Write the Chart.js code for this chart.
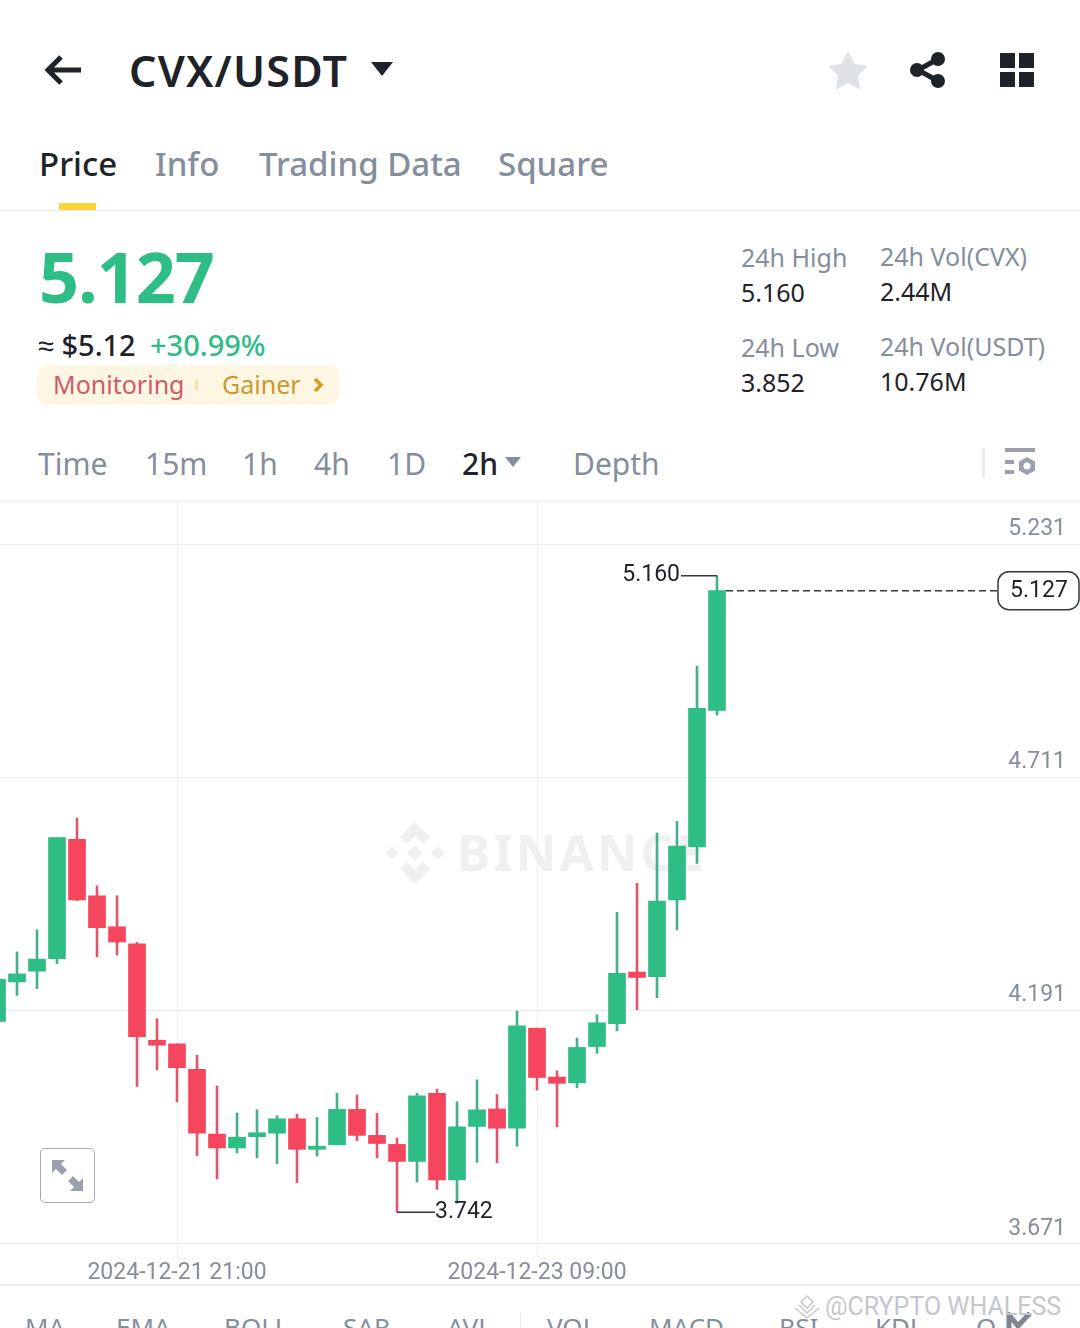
<!DOCTYPE html>
<html>
<head>
<meta charset="utf-8">
<title>CVX/USDT</title>
<script src="https://cdn.jsdelivr.net/npm/chart.js@4"></script>
<style>
html, body { margin: 0; padding: 0; background: #fff; }
#page { position: relative; width: 1080px; height: 1328px; overflow: hidden; font-family: "Noto Sans", sans-serif; color: #1e2329; }
.t { position: absolute; white-space: nowrap; line-height: 1; }
.gray { color: #848e9c; }
.line { position: absolute; background: #eaecef; }
svg { position: absolute; }
#chartBox { position: absolute; left: 0; top: 503px; width: 1080px; height: 782px; }
</style>
</head>
<body>
<div id="page">
  <!-- top bar -->
  <svg style="left:44px;top:54px" width="38" height="32" viewBox="0 0 38 32"><path d="M37 16H4M17 3L4 16l13 13" fill="none" stroke="#1e2329" stroke-width="5"/></svg>
  <span class="t" style="left:129px;top:49px;font-size:43px;font-weight:600;letter-spacing:1.2px">CVX/USDT</span>
  <svg style="left:370px;top:61px" width="24" height="16" viewBox="0 0 24 16"><path d="M1 1h22l-11 14z" fill="#1e2329"/></svg>
  <svg style="left:828px;top:51px" width="40" height="40" viewBox="0 0 40 40"><path d="M20 2l5.6 11.6 12.4 1.8-9 8.8 2.2 12.8L20 30.8 8.8 37l2.2-12.8-9-8.8 12.4-1.8z" fill="#dfe2e6" stroke="#dfe2e6" stroke-width="2" stroke-linejoin="round"/></svg>
  <svg style="left:908px;top:50px" width="40" height="40" viewBox="0 0 40 40"><path d="M30 9L10 20l20 11" fill="none" stroke="#1e2329" stroke-width="5"/><circle cx="30" cy="9" r="7" fill="#1e2329"/><circle cx="9" cy="20" r="7" fill="#1e2329"/><circle cx="30" cy="31" r="7" fill="#1e2329"/></svg>
  <svg style="left:1000px;top:53px" width="34" height="34" viewBox="0 0 34 34"><path d="M0 0h15v15H0zM19 0h15v15H19zM0 19h15v15H0zM19 19h15v15H19z" fill="#1e2329"/></svg>

  <!-- tabs -->
  <span class="t" style="left:39px;top:147px;font-size:33px;font-weight:500">Price</span>
  <span class="t gray" style="left:155px;top:147px;font-size:33px;font-weight:500">Info</span>
  <span class="t gray" style="left:259px;top:147px;font-size:33px;font-weight:500">Trading Data</span>
  <span class="t gray" style="left:498px;top:147px;font-size:33px;font-weight:500">Square</span>
  <div class="line" style="left:59px;top:203px;width:37px;height:7px;background:#fcd535"></div>
  <div class="line" style="left:0;top:210px;width:1080px;height:1px"></div>

  <!-- price block -->
  <span class="t" style="left:39px;top:241px;font-size:70px;font-weight:700;color:#2ebd85;letter-spacing:-1px">5.127</span>
  <span class="t" style="left:38px;top:330px;font-size:29px;font-weight:500">≈ $5.12</span>
  <span class="t" style="left:150px;top:330px;font-size:29px;font-weight:500;color:#2ebd85">+30.99%</span>
  <div class="line" style="left:37px;top:365px;width:302px;height:40px;background:#fdf6e3;border-radius:11px"></div>
  <span class="t" style="left:53px;top:372px;font-size:25px;color:#cf5a68">Monitoring</span>
  <div class="line" style="left:195px;top:380px;width:3px;height:10px;background:#f3e3a8"></div>
  <span class="t" style="left:222px;top:372px;font-size:25px;color:#c99a2e">Gainer</span>
  <svg style="left:313px;top:377px" width="12" height="16" viewBox="0 0 12 16"><path d="M2 2l6 6-6 6" fill="none" stroke="#d69e1e" stroke-width="3.5"/></svg>

  <!-- 24h stats -->
  <span class="t gray" style="left:741px;top:245px;font-size:25px">24h High</span>
  <span class="t" style="left:741px;top:280px;font-size:25px">5.160</span>
  <span class="t gray" style="left:880px;top:244px;font-size:25px">24h Vol(CVX)</span>
  <span class="t" style="left:880px;top:279px;font-size:25px">2.44M</span>
  <span class="t gray" style="left:741px;top:335px;font-size:25px">24h Low</span>
  <span class="t" style="left:741px;top:370px;font-size:25px">3.852</span>
  <span class="t gray" style="left:880px;top:334px;font-size:25px">24h Vol(USDT)</span>
  <span class="t" style="left:880px;top:369px;font-size:25px">10.76M</span>

  <!-- interval row -->
  <span class="t gray" style="left:38px;top:449px;font-size:30px">Time</span>
  <span class="t gray" style="left:145px;top:449px;font-size:30px">15m</span>
  <span class="t gray" style="left:242px;top:449px;font-size:30px">1h</span>
  <span class="t gray" style="left:314px;top:449px;font-size:30px">4h</span>
  <span class="t gray" style="left:387px;top:449px;font-size:30px">1D</span>
  <span class="t" style="left:462px;top:449px;font-size:30px;font-weight:500">2h</span>
  <svg style="left:505px;top:457px" width="16" height="11" viewBox="0 0 16 11"><path d="M0 0h16L8 10z" fill="#848e9c"/></svg>
  <span class="t gray" style="left:573px;top:449px;font-size:30px">Depth</span>
  <div class="line" style="left:982px;top:448px;width:3px;height:30px"></div>
  <svg style="left:1005px;top:447px" width="30" height="31" viewBox="0 0 30 31"><path d="M0 1h30v4H0zM0 13h9v4H0zM0 23h9v4H0z" fill="#9aa1ac"/><path d="M22 10l8 4.5v9L22 28l-8-4.500v-9z" fill="#9aa1ac"/><circle cx="22" cy="19" r="3.500" fill="#fff"/></svg>
  <div class="line" style="left:0;top:500px;width:1080px;height:3px;background:#f3f4f6"></div>

  <!-- watermark under the candles -->
  <svg style="left:384px;top:821px" width="62" height="64" viewBox="0 0 62 64"><g fill="#eff0f2"><path d="M31 1l15 15-7 7-8-8-8 8-7-7z"/><path d="M31 63L16 48l7-7 8 8 8-8 7 7z"/><path d="M8 25l7 7-7 7-7-7z"/><path d="M54 25l7 7-7 7-7-7z"/><path d="M31 24l8 8-8 8-8-8z"/></g></svg>
  <span class="t" style="left:457px;top:827px;font-size:50px;font-weight:700;color:#eff0f2;letter-spacing:3px">BINANCE</span>

  <div id="chartBox"><canvas id="myChart"></canvas></div>

  <!-- expand button -->
  <div class="line" style="left:40px;top:1148px;width:53px;height:53px;background:#fff;border:1.5px solid #a4a9b2;border-radius:5px"></div>
  <svg style="left:51px;top:1159px" width="33" height="33" viewBox="0 0 33 33"><g fill="#9aa1ac"><path d="M1 1h13l-4 4 6 6-5 5-6-6-4 4z"/><path d="M32 32H19l4-4-6-6 5-5 6 6 4-4z"/></g></svg>

  <!-- indicator row, cut by the bottom of the picture -->
  <div class="line" style="left:0;top:1284px;width:1080px;height:2px"></div>
  <div class="line" style="left:520px;top:1312px;width:1px;height:16px"></div>
  <span class="t gray" style="left:25px;top:1314px;font-size:26px">MA</span>
  <span class="t gray" style="left:116px;top:1314px;font-size:26px">EMA</span>
  <span class="t gray" style="left:224px;top:1314px;font-size:26px">BOLL</span>
  <span class="t gray" style="left:343px;top:1314px;font-size:26px">SAR</span>
  <span class="t gray" style="left:447px;top:1314px;font-size:26px">AVL</span>
  <span class="t gray" style="left:547px;top:1314px;font-size:26px">VOL</span>
  <span class="t gray" style="left:649px;top:1314px;font-size:26px">MACD</span>
  <span class="t gray" style="left:779px;top:1314px;font-size:26px">RSI</span>
  <span class="t gray" style="left:875px;top:1314px;font-size:26px">KDJ</span>
  <span class="t gray" style="left:976px;top:1314px;font-size:26px">O</span>
  <svg style="left:1006px;top:1312px" width="28" height="16" viewBox="0 0 28 16"><path d="M3 16V3l9 11L24 1" fill="none" stroke="#7d8591" stroke-width="5"/></svg>

  <!-- reposter credit -->
  <svg style="left:793px;top:1295px" width="28" height="24" viewBox="0 0 28 24"><g fill="none" stroke="#c5c9cf" stroke-width="1.5"><path d="M14 1l6 6-6 6-6-6z"/><path d="M6 10l8 8 8-8"/><path d="M2 13l12 10 12-10"/></g></svg>
  <span class="t" style="left:825px;top:1294px;font-family:Roboto;font-size:25px;color:#c3c7cd">@CRYPTO WHALESS</span>
</div>

<script>
// candles, one per 2h
const times = [
    '2024-12-21 03:00', '2024-12-21 05:00', '2024-12-21 07:00', '2024-12-21 09:00', '2024-12-21 11:00',
    '2024-12-21 13:00', '2024-12-21 15:00', '2024-12-21 17:00', '2024-12-21 19:00', '2024-12-21 21:00',
    '2024-12-21 23:00', '2024-12-22 01:00', '2024-12-22 03:00', '2024-12-22 05:00', '2024-12-22 07:00',
    '2024-12-22 09:00', '2024-12-22 11:00', '2024-12-22 13:00', '2024-12-22 15:00', '2024-12-22 17:00',
    '2024-12-22 19:00', '2024-12-22 21:00', '2024-12-22 23:00', '2024-12-23 01:00', '2024-12-23 03:00',
    '2024-12-23 05:00', '2024-12-23 07:00', '2024-12-23 09:00', '2024-12-23 11:00', '2024-12-23 13:00',
    '2024-12-23 15:00', '2024-12-23 17:00', '2024-12-23 19:00', '2024-12-23 21:00', '2024-12-23 23:00',
    '2024-12-24 01:00', '2024-12-24 03:00',
];
const opens = [4.167, 4.255, 4.279, 4.307, 4.573, 4.447, 4.378, 4.340, 4.125, 4.117, 4.060, 3.916, 3.885, 3.910, 3.918, 3.950, 3.882, 3.892, 3.971, 3.913, 3.893, 3.855, 4.007, 3.814, 3.933, 3.972, 3.929, 4.152, 4.043, 4.030, 4.111, 4.162, 4.277, 4.267, 4.438, 4.556, 4.860];
const closes = [4.261, 4.273, 4.306, 4.577, 4.438, 4.376, 4.344, 4.133, 4.114, 4.064, 3.918, 3.885, 3.909, 3.919, 3.950, 3.882, 3.889, 3.971, 3.913, 3.895, 3.855, 4.001, 3.814, 3.932, 3.970, 3.929, 4.157, 4.042, 4.029, 4.109, 4.164, 4.274, 4.265, 4.435, 4.558, 4.865, 5.127];
const highs = [4.270, 4.322, 4.371, 4.577, 4.620, 4.469, 4.447, 4.343, 4.173, 4.117, 4.092, 4.023, 3.963, 3.970, 3.957, 3.960, 3.953, 4.007, 4.003, 3.962, 3.907, 4.007, 4.016, 3.988, 4.037, 4.004, 4.190, 4.152, 4.057, 4.130, 4.182, 4.410, 4.475, 4.587, 4.613, 4.959, 5.160];
const lows = [4.159, 4.225, 4.240, 4.296, 4.436, 4.311, 4.315, 4.022, 4.059, 3.988, 3.868, 3.816, 3.874, 3.863, 3.850, 3.808, 3.867, 3.892, 3.901, 3.863, 3.742, 3.809, 3.793, 3.762, 3.853, 3.852, 3.889, 4.014, 3.932, 4.019, 4.096, 4.146, 4.193, 4.220, 4.371, 4.519, 4.850];

const priceTicks = [5.231, 4.711, 4.191, 3.671];
const timeTicks = ['2024-12-21 21:00', '2024-12-23 09:00'];

const GREEN = '#2ebd85';
const RED = '#f6465d';
const isUp = (i) => closes[i] >= opens[i];

const wicks = times.map((_, i) => ({ x: i, y: [lows[i], highs[i]] }));
const bodies = times.map((_, i) => ({ x: i, y: [opens[i], closes[i]] }));

// y labels sit above their grid line, plus the high / low / last price marks
const priceMarks = {
    id: 'priceMarks',
    afterDatasetsDraw(chart) {
        const { ctx, chartArea, scales: { x, y } } = chart;
        ctx.save();
        ctx.font = '23px Roboto';
        ctx.textBaseline = 'middle';

        ctx.fillStyle = '#848e9c';
        ctx.textAlign = 'right';
        priceTicks.forEach((p) => {
            ctx.fillText(p.toFixed(3), chartArea.right - 14, y.getPixelForValue(p) - 15);
        });

        ctx.fillStyle = '#1e2329';
        ctx.strokeStyle = '#333a42';
        ctx.lineWidth = 1.5;

        const top = highs.indexOf(Math.max(...highs));
        const topX = x.getPixelForValue(top);
        const topY = y.getPixelForValue(highs[top]);
        ctx.beginPath();
        ctx.moveTo(topX, topY);
        ctx.lineTo(topX - 36, topY);
        ctx.stroke();
        ctx.fillText(highs[top].toFixed(3), topX - 37, topY - 1);

        const bot = lows.indexOf(Math.min(...lows));
        const botX = x.getPixelForValue(bot);
        const botY = y.getPixelForValue(lows[bot]);
        ctx.beginPath();
        ctx.moveTo(botX, botY);
        ctx.lineTo(botX + 38, botY);
        ctx.stroke();
        ctx.textAlign = 'left';
        ctx.fillText(lows[bot].toFixed(3), botX + 38, botY);

        const last = closes.length - 1;
        const lastY = y.getPixelForValue(closes[last]);
        const pillLeft = chartArea.right - 82;
        ctx.setLineDash([7, 4]);
        ctx.beginPath();
        ctx.moveTo(x.getPixelForValue(last) + 9, lastY);
        ctx.lineTo(pillLeft, lastY);
        ctx.stroke();
        ctx.setLineDash([]);
        ctx.beginPath();
        ctx.roundRect(pillLeft, lastY - 19, 81, 38, 11);
        ctx.fillStyle = '#fff';
        ctx.fill();
        ctx.stroke();
        ctx.fillStyle = '#1e2329';
        ctx.textAlign = 'center';
        ctx.fillText(closes[last].toFixed(3), pillLeft + 41, lastY + 1);
        ctx.restore();
    },
};

new Chart('myChart', {
    type: 'bar',
    data: {
        datasets: [
            {
                data: wicks,
                barThickness: 2,
                backgroundColor: times.map((_, i) => (isUp(i) ? '#45b08c' : '#e0566c')),
                order: 2,
            },
            {
                data: bodies,
                barThickness: 17,
                backgroundColor: times.map((_, i) => (isUp(i) ? GREEN : RED)),
                order: 1,
            },
        ],
    },
    plugins: [priceMarks],
    options: {
        responsive: true,
        maintainAspectRatio: false,
        animation: false,
        layout: { padding: 0 },
        datasets: { bar: { grouped: false } },
        plugins: {
            legend: { display: false },
            tooltip: { enabled: false },
        },
        scales: {
            x: {
                type: 'linear',
                offset: false,
                min: 0.15,
                max: 54.15,
                grid: { offset: false, color: '#eceef0', lineWidth: 1, drawTicks: false },
                border: { display: false },
                afterBuildTicks(scale) {
                    scale.ticks = timeTicks.map((t) => ({ value: times.indexOf(t) }));
                },
                afterFit(scale) {
                    scale.height = 28;
                },
                ticks: {
                    autoSkip: false,
                    maxRotation: 0,
                    padding: 2,
                    color: '#848e9c',
                    font: { family: 'Roboto', size: 23 },
                    callback: (value) => times[value],
                },
            },
            y: {
                position: 'right',
                min: 3.642,
                max: 5.3224,
                grid: { color: '#eceef0', lineWidth: 1, drawTicks: false },
                border: { display: false },
                afterBuildTicks(scale) {
                    scale.ticks = priceTicks.map((p) => ({ value: p }));
                },
                afterFit(scale) {
                    scale.width = 0;
                },
                ticks: { display: false },
            },
        },
    },
});
</script>
</body>
</html>
